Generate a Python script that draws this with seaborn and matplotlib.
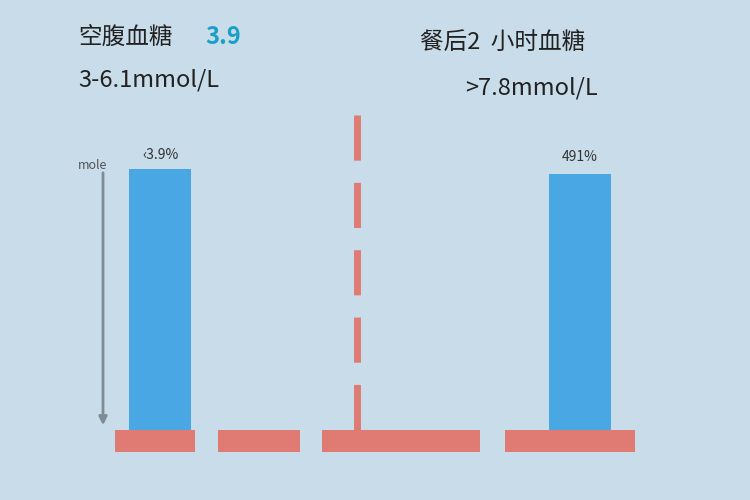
import matplotlib
matplotlib.use("Agg")
import matplotlib.pyplot as plt
import seaborn as sns
import pandas as pd

categories = ["空腹血糖", "餐后2小时血糖"]
positions = [160, 580]
values = [3.9, 3.83]
bar_labels = ["‹3.9%", "491%"]

sns.set_theme(style="white")
plt.rcParams['font.family'] = ['Noto Sans CJK SC', 'DejaVu Sans']
bg = "#c8dce9"
fig = plt.figure(figsize=(7.5, 5), dpi=100, facecolor=bg)
ax = fig.add_axes([0, 0, 1, 1])
ax.set_facecolor(bg)
df = pd.DataFrame({"x": positions, "v": values})
sns.barplot(data=df, x="x", y="v", native_scale=True, width=62/420, color="#49a8e4",
            saturation=1, ax=ax, linewidth=0)
scale = 261/3.9
ax.set_xlim(0, 750)
ax.set_ylim(-70/scale, 430/scale)
ax.axis("off")

def fy(p): return 1 - p/500
def fx(p): return p/750
T = ax.transAxes
red = "#e07b74"
for a, b in [(115, 195), (218, 300), (322, 480), (505, 635)]:
    ax.add_patch(plt.Rectangle((fx(a), fy(452)), fx(b)-fx(a), 22/500, transform=T, color=red, lw=0))
ax.plot([fx(357)]*2, [fy(115), fy(430)], transform=T, color=red, lw=5, dashes=(6.5, 3.2))
ax.annotate("", xy=(fx(103), fy(428)), xytext=(fx(103), fy(170)), xycoords=T, textcoords=T,
            arrowprops=dict(arrowstyle="-|>", color="#7f8c96", lw=2))
ax.text(fx(78), fy(165), "mole", transform=T, fontsize=9, color="#555", va="center")
for x, y, s in zip(positions, [155, 157], bar_labels):
    ax.text(fx(x), fy(y), s, transform=T, fontsize=10, ha="center", va="center", color="#333")

kw = dict(transform=T, fontsize=17, va="center", color="#222", fontweight="medium")
ax.text(fx(78), fy(37), "空腹血糖", **kw)
ax.text(fx(205), fy(37), "3.9", transform=T, fontsize=17, va="center", color="#1aa0c8", fontweight="bold")
ax.text(fx(78), fy(80), "3-6.1mmol/L", **kw)
ax.text(fx(420), fy(42), "餐后2  小时血糖", **kw)
ax.text(fx(465), fy(88), ">7.8mmol/L", **kw)
fig.savefig("out.png", dpi=100, facecolor=bg)
